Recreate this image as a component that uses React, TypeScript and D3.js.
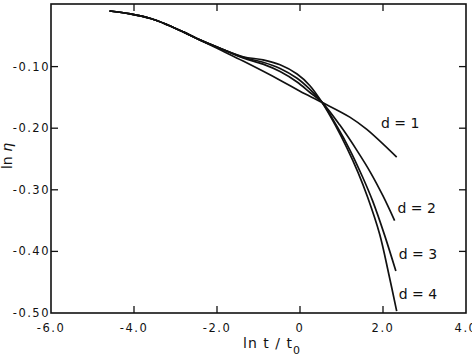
import * as d3 from "d3";
import { useEffect, useRef } from "react";

// shared start of all curves (ln t/t0, ln n)
const sharedX = [-4.59, -4.09, -3.6, -3.2, -2.8, -2.4];
const sharedY = [-0.0097, -0.0145, -0.022, -0.032, -0.044, -0.057];

const d1X = [-1.9, -1.37, -0.48, 0, 0.53, 1.2, 1.61, 2.33];
const d1Y = [-0.0735, -0.091, -0.122, -0.14, -0.158, -0.182, -0.202, -0.247];

const d2X = [-1.9, -1.37, -0.89, -0.48, -0.07, 0.24, 0.53, 0.96, 1.39, 1.7, 2.0, 2.28];
const d2Y = [-0.071, -0.086, -0.096, -0.108, -0.125, -0.142, -0.158, -0.195, -0.238, -0.272, -0.31, -0.35];

const d3X = [-1.9, -1.37, -0.89, -0.48, -0.07, 0.24, 0.53, 0.9, 1.2, 1.5, 1.75, 2.04, 2.31];
const d3Y = [-0.071, -0.085, -0.093, -0.103, -0.119, -0.137, -0.158, -0.198, -0.235, -0.278, -0.318, -0.374, -0.432];

const d4X = [-1.9, -1.37, -0.89, -0.48, -0.07, 0.24, 0.53, 0.85, 1.13, 1.4, 1.63, 1.92, 2.14, 2.33];
const d4Y = [-0.071, -0.084, -0.089, -0.097, -0.112, -0.131, -0.158, -0.195, -0.232, -0.272, -0.312, -0.372, -0.437, -0.497];

const curveLabels = ["d = 1", "d = 2", "d = 3", "d = 4"];
const xTicks = [-6, -4, -2, 0, 2, 4];
const yTicks = [-0.1, -0.2, -0.3, -0.4, -0.5];

export default function App() {
    const ref = useRef<SVGSVGElement>(null);

    useEffect(() => {
        const width = 472;
        const height = 361;
        const margin = { top: 5, right: 6, bottom: 48, left: 51 };

        const svg = d3.select(ref.current)
            .attr('width', width)
            .attr('height', height);

        svg.selectAll('*').remove();

        const x = d3.scaleLinear()
            .domain([-6, 4])
            .range([margin.left, width - margin.right]);

        const y = d3.scaleLinear()
            .domain([0, -0.5])
            .range([margin.top, height - margin.bottom]);

        const font = "DejaVu Sans, sans-serif";
        const ink = "#111";

        // Frame
        svg.append('rect')
            .attr('x', x(-6))
            .attr('y', y(0) - 1)
            .attr('width', x(4) - x(-6))
            .attr('height', y(-0.5) - y(0) + 1)
            .attr('fill', 'none')
            .attr('stroke', ink)
            .attr('stroke-width', 1.6);

        // Inward ticks on all four sides
        const tickLen = 7;
        const innerX = xTicks.filter(d => d > -6 && d < 4);
        const innerY = yTicks.filter(d => d > -0.5);

        svg.selectAll('.xb')
            .data(innerX)
            .join('line')
            .attr('x1', d => x(d)).attr('x2', d => x(d))
            .attr('y1', y(-0.5)).attr('y2', y(-0.5) - tickLen)
            .attr('stroke', ink).attr('stroke-width', 1.3);

        svg.selectAll('.xt')
            .data(innerX)
            .join('line')
            .attr('x1', d => x(d)).attr('x2', d => x(d))
            .attr('y1', y(0) - 1).attr('y2', y(0) - 1 + tickLen)
            .attr('stroke', ink).attr('stroke-width', 1.3);

        svg.selectAll('.yl')
            .data(innerY)
            .join('line')
            .attr('x1', x(-6)).attr('x2', x(-6) + tickLen)
            .attr('y1', d => y(d)).attr('y2', d => y(d))
            .attr('stroke', ink).attr('stroke-width', 1.3);

        svg.selectAll('.yr')
            .data(innerY)
            .join('line')
            .attr('x1', x(4)).attr('x2', x(4) - tickLen)
            .attr('y1', d => y(d)).attr('y2', d => y(d))
            .attr('stroke', ink).attr('stroke-width', 1.3);

        // Tick labels (the last one runs off the right edge, as in the original)
        svg.selectAll('.xlab')
            .data(xTicks)
            .join('text')
            .attr('x', d => x(d))
            .attr('y', y(-0.5) + 19)
            .attr('text-anchor', 'middle')
            .style('font-family', font)
            .style('font-size', '11.5px')
            .style('letter-spacing', '1.5px')
            .attr('fill', ink)
            .text(d => d === 0 ? '0' : d.toFixed(1));

        svg.selectAll('.ylab')
            .data(yTicks)
            .join('text')
            .attr('x', x(-6) - 1)
            .attr('y', d => y(d) + 4)
            .attr('text-anchor', 'end')
            .style('font-family', font)
            .style('font-size', '11.5px')
            .style('letter-spacing', '1.5px')
            .attr('fill', ink)
            .text(d => d.toFixed(2));

        // Axis titles
        const xt = svg.append('text')
            .attr('x', 272)
            .attr('y', 348)
            .attr('text-anchor', 'middle')
            .style('font-family', font)
            .style('font-size', '14px')
            .style('letter-spacing', '1px')
            .attr('fill', ink);
        xt.append('tspan').text('ln t / t');
        xt.append('tspan').attr('dy', 6).style('font-size', '11px').text('0');

        const yt = svg.append('text')
            .attr('transform', 'translate(12,156) rotate(-90)')
            .attr('text-anchor', 'middle')
            .style('font-family', font)
            .style('font-size', '14px')
            .attr('fill', ink);
        yt.append('tspan').text('ln ');
        yt.append('tspan').style('font-style', 'italic').text('η');

        // Curves
        const series = [[d1X, d1Y], [d2X, d2Y], [d3X, d3Y], [d4X, d4Y]].map(([xs, ys]) =>
            sharedX.map((v, i) => [v, sharedY[i]] as [number, number])
                .concat(xs.map((v, i) => [v, ys[i]] as [number, number]))
        );

        const line = d3.line<[number, number]>()
            .x(d => x(d[0]))
            .y(d => y(d[1]))
            .curve(d3.curveCatmullRom.alpha(0.5));

        svg.selectAll('.curve')
            .data(series)
            .join('path')
            .attr('d', d => line(d))
            .attr('fill', 'none')
            .attr('stroke', ink)
            .attr('stroke-width', 1.7);

        // Curve labels, next to the end of each curve
        const labelPos = [[1.95, -0.2], [2.35, -0.337], [2.38, -0.412], [2.38, -0.477]];
        svg.selectAll('.clab')
            .data(curveLabels)
            .join('text')
            .attr('x', (d, i) => x(labelPos[i][0]))
            .attr('y', (d, i) => y(labelPos[i][1]))
            .style('font-family', font)
            .style('font-size', '14px')
            .attr('fill', ink)
            .text(d => d);
    }, []);

    return (
        <svg ref={ref} style={{ position: 'absolute', left: 0, top: 0, background: '#fff' }}></svg>
    );
}
